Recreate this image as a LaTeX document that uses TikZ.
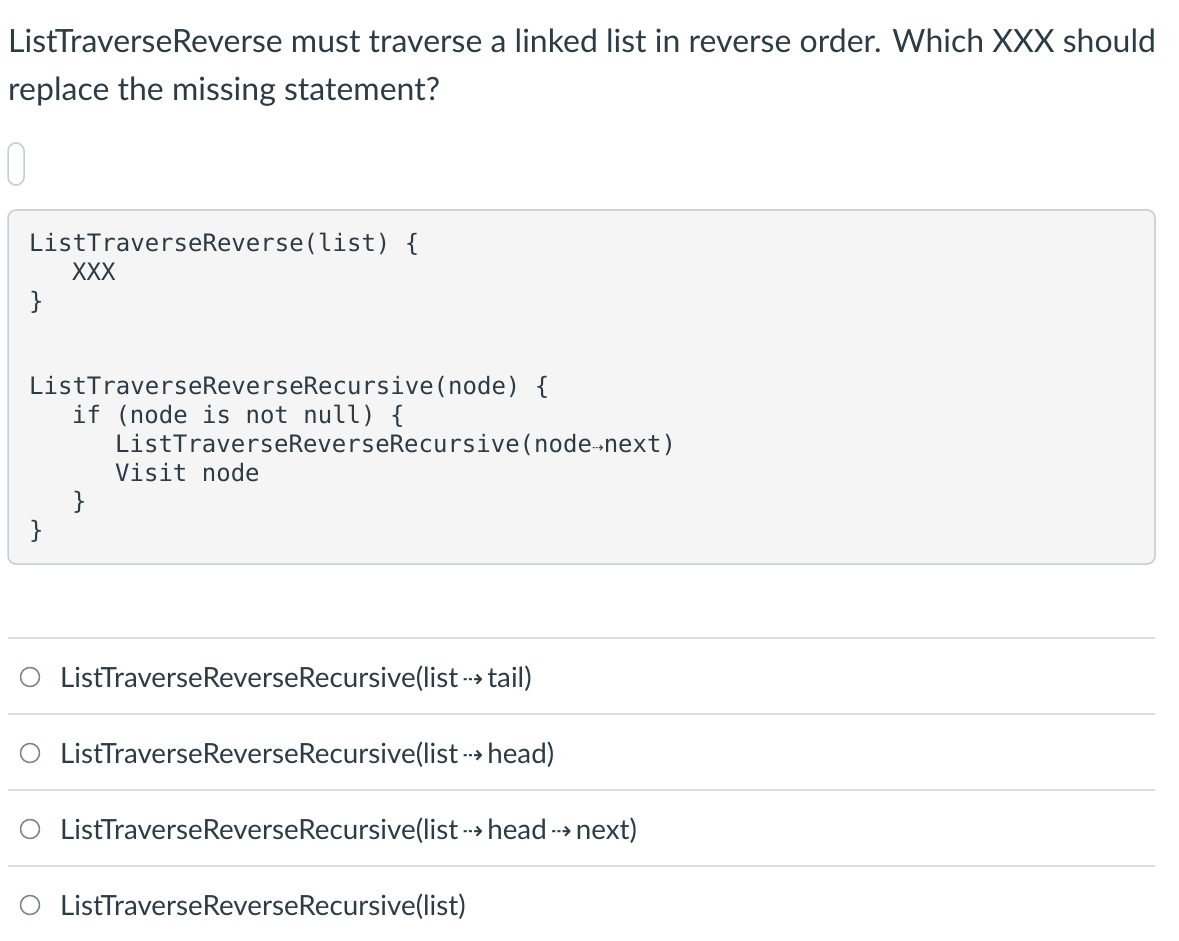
\documentclass[tikz,border=0pt]{standalone}
\usepackage{fontspec}
\usepackage{xcolor}
\setmainfont{Lato}
\setmonofont{DejaVu Sans Mono}
\newfontfamily\arwfont{DejaVu Sans}
\definecolor{ink}{HTML}{2D3B45}
\definecolor{codebg}{HTML}{F5F5F5}
\definecolor{frame}{HTML}{C7CDD1}
\definecolor{rule}{HTML}{DDDDDD}
\definecolor{radio}{HTML}{7A848B}
\newcommand{\qfont}{\fontsize{32}{38}\selectfont}
\newcommand{\optfont}{\fontsize{27.8}{33}\selectfont}
\newcommand{\codefont}{\fontsize{24}{29}\ttfamily}
\newcommand{\arw}{\kern4pt{\fontsize{25}{25}\arwfont\char"21E2}\kern4pt}

\begin{document}
\begin{tikzpicture}
  [x=1pt,y=-1pt,
   every node/.style={inner sep=0,anchor=base west,text=ink},
   qtext/.style={font=\qfont},
   code/.style={font=\codefont},
   opt/.style={font=\optfont}]
  \useasboundingbox (0,0) rectangle (1179,941);

  % question
  \node[qtext] (q1) at (8,53)  {ListTraverseReverse must traverse a linked list in reverse order. Which XXX should};
  \node[qtext] (q2) at (8,101) {replace the missing statement?};

  % empty answer field
  \draw[frame,line width=1.5pt,fill=white,rounded corners=8pt] (8,143) rectangle (24,185);

  % code box
  \draw[frame,line width=1.5pt,fill=codebg,rounded corners=8pt] (8,210) rectangle (1155,564);
  \node[code] (c1) at (29,252)  {ListTraverseReverse(list) \{};
  \node[code] (c2) at (72,280.7) {XXX};
  \node[code] (c3) at (29,309.4) {\}};
  \node[code] (c4) at (29,395)  {ListTraverseReverseRecursive(node) \{};
  \node[code] (c5) at (72,423.7) {if (node is not null) \{};
  \node[code] (c6) at (115,452.4) {ListTraverseReverseRecursive(node{\fontsize{14}{14}\arwfont\char"21E2}next)};
  \node[code] (c7) at (115,481) {Visit node};
  \node[code] (c8) at (72,509.7) {\}};
  \node[code] (c9) at (29,538.4) {\}};

  % answers
  \foreach \i/\txt in {0/{ListTraverseReverseRecursive(list\arw tail)},
                       1/{ListTraverseReverseRecursive(list\arw head)},
                       2/{ListTraverseReverseRecursive(list\arw head\arw next)},
                       3/{ListTraverseReverseRecursive(list)}}
  {
    \draw[rule,line width=1.5pt] (8,638+76*\i) -- (1155,638+76*\i);
    \draw[radio,line width=1.5pt] (30,677+76*\i) circle (9.5);
    \node[opt] (a\i) at (60,687+76*\i) {\txt};
  }

\end{tikzpicture}
\end{document}
